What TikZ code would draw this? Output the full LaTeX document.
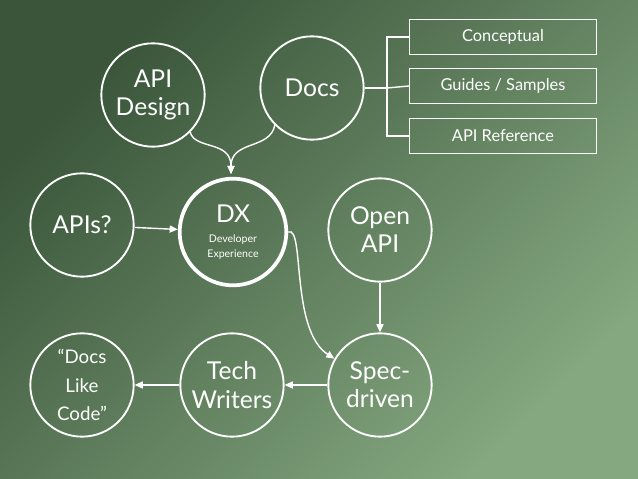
\documentclass[tikz,border=0pt]{standalone}
\usepackage{fontspec}
\setmainfont{Lato}
\usetikzlibrary{arrows.meta}
\definecolor{bgA}{HTML}{3A553A}
\definecolor{bgB}{HTML}{85A880}
\begin{document}
\begin{tikzpicture}[x=0.03cm,y=-0.03cm,
  circ/.style={circle,draw=white,line width=1.6pt,minimum size=3.1cm,inner sep=0pt,align=center,text=white,font=\fontsize{21}{24}\selectfont},
  bx/.style={draw=white,line width=1.2pt,minimum width=5.6cm,minimum height=1.05cm,text=white,font=\fontsize{14}{16}\selectfont},
  conn/.style={white,line width=1.2pt},
  arr/.style={conn,-{Triangle[length=7pt,width=6pt]}}]
\begin{scope}[x=1cm,y=1cm]
\shade[top color=bgA,bottom color=bgB,shading angle=45] (0,0) rectangle (19.14,-14.34);
\end{scope}
\useasboundingbox (0,0) rectangle (638,478);
\node[circ] (apid) at (153,95) {API\\Design};
\node[circ] (docs) at (312,88) {Docs};
\node[circ] (apis) at (82,225) {APIs?};
\node[circ,line width=3.2pt,minimum size=3.2cm,font=\fontsize{21}{13}\selectfont] (dx) at (233,232) {DX\\[4pt]{\fontsize{9}{11}\selectfont Developer}\\{\fontsize{9}{11}\selectfont Experience}};
\node[circ] (open) at (380,230) {Open\\API};
\node[circ] (spec) at (380,385) {Spec-\\driven};
\node[circ] (tech) at (232,385) {Tech\\Writers};
\node[circ] (dlc) at (82,385) {{\fontsize{16}{21}\selectfont “Docs}\\{\fontsize{16}{21}\selectfont Like}\\{\fontsize{16}{21}\selectfont Code”}};
\node[bx] (c1) at (503,37) {Conceptual};
\node[bx] (c2) at (503,86) {Guides / Samples};
\node[bx] (c3) at (503,136) {API Reference};
\coordinate (br) at (387,88);
\draw[conn] (docs.east) -- (br);
\draw[conn] (c1.west) -| (br) |- (c3.west);
\draw[conn] (br) -- (c2.west);
\coordinate (dxt) at (231,174);
\draw[arr] (apid.south east) .. controls (195,150) and (231,140) .. (dxt);
\draw[arr] (docs.south west) .. controls (270,150) and (231,140) .. (dxt);
\draw[arr] (apis) -- (dx);
\draw[arr] (dx.east) .. controls (305,225) and (290,330) .. (spec.150);
\draw[arr] (open) -- (spec);
\draw[arr] (spec) -- (tech);
\draw[arr] (tech) -- (dlc);
\end{tikzpicture}
\end{document}
